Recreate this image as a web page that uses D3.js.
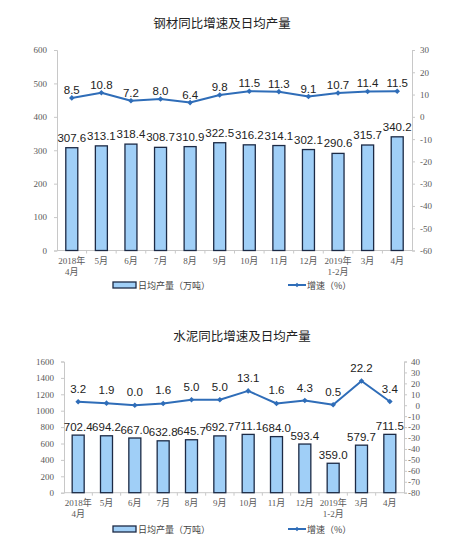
<!DOCTYPE html>
<html>
<head>
<meta charset="utf-8">
<script src="https://cdn.jsdelivr.net/npm/d3@7"></script>
<style>
    body { margin: 0; background: #fff; }
    svg { display: block; }
</style>
</head>
<body>
<div id="chart"></div>
<script>
// categories
const months = ['2018年\n4月', '5月', '6月', '7月', '8月', '9月', '10月', '11月', '12月', '2019年\n1-2月', '3月', '4月'];

// steel
const steelOutput = [307.6, 313.1, 318.4, 308.7, 310.9, 322.5, 316.2, 314.1, 302.1, 290.6, 315.7, 340.2];
const steelGrowth = [8.5, 10.8, 7.2, 8.0, 6.4, 9.8, 11.5, 11.3, 9.1, 10.7, 11.4, 11.5];
const steelLeftTicks = [0, 100, 200, 300, 400, 500, 600];
const steelRightTicks = [-60, -50, -40, -30, -20, -10, 0, 10, 20, 30];

// cement
const cementOutput = [702.4, 694.2, 667.0, 632.8, 645.7, 692.7, 711.1, 684.0, 593.4, 359.0, 579.7, 711.5];
const cementGrowth = [3.2, 1.9, 0.0, 1.6, 5.0, 5.0, 13.1, 1.6, 4.3, 0.5, 22.2, 3.4];
const cementLeftTicks = [0, 200, 400, 600, 800, 1000, 1200, 1400, 1600];
const cementRightTicks = [-80, -70, -60, -50, -40, -30, -20, -10, 0, 10, 20, 30, 40];

const barLegend = '日均产量（万吨）';
const lineLegend = '增速（%）';

const lineColor = '#2f6db8';
const barFill = '#a0cff7';
const barStroke = '#1c2a45';
const axisColor = '#c8c8c8';
const tickColor = '#595959';
const serif = '"Liberation Serif", "Noto Sans CJK SC", serif';
const sans = '"Liberation Sans", Arial, sans-serif';
const cjk = '"Noto Sans CJK SC", sans-serif';

const svg = d3.select('#chart')
    .append('svg')
    .attr('width', 454)
    .attr('height', 558);

svg.append('rect').attr('width', 454).attr('height', 558).attr('fill', '#fff');

function diamond(g, x, y, r) {
    g.append('path')
        .attr('d', `M${x},${y - r}L${x + r},${y}L${x},${y + r}L${x - r},${y}Z`)
        .attr('fill', lineColor);
}

function drawChart(o) {
    const grp = svg.append('g');

    // title
    grp.append('text')
        .attr('x', o.titleX)
        .attr('y', o.titleY)
        .attr('text-anchor', 'middle')
        .style('font-family', cjk)
        .style('font-size', '12.5px')
        .attr('fill', '#222')
        .text(o.title);

    const xScale = d3.scaleBand()
        .domain(months)
        .range([o.left, o.right]);

    const yScale = d3.scaleLinear()
        .domain(d3.extent(o.leftTicks))
        .range([o.bottom, o.top]);

    const y2Scale = d3.scaleLinear()
        .domain(d3.extent(o.rightTicks))
        .range([o.bottom, o.top]);

    // left axis
    const yAxis = grp.append('g')
        .attr('transform', `translate(${o.left},0)`)
        .call(d3.axisLeft(yScale).tickValues(o.leftTicks).tickSize(3).tickPadding(7).tickFormat(d => String(d)));
    yAxis.select('.domain').attr('stroke', axisColor);
    yAxis.selectAll('.tick line').attr('stroke', axisColor);
    yAxis.selectAll('text')
        .style('font-family', serif)
        .style('font-size', '9px')
        .attr('fill', tickColor);

    // right axis
    const y2Axis = grp.append('g')
        .attr('transform', `translate(${o.right},0)`)
        .call(d3.axisRight(y2Scale).tickValues(o.rightTicks).tickSize(3).tickPadding(o.rightPad).tickFormat(d => String(d)));
    y2Axis.select('.domain').attr('stroke', axisColor);
    y2Axis.selectAll('.tick line').attr('stroke', axisColor);
    y2Axis.selectAll('text')
        .style('font-family', serif)
        .style('font-size', '9px')
        .attr('text-anchor', o.rightAnchor)
        .attr('fill', tickColor);

    // x axis
    grp.append('line')
        .attr('x1', o.left).attr('x2', o.right)
        .attr('y1', o.bottom).attr('y2', o.bottom)
        .attr('stroke', axisColor);

    grp.selectAll('.xtick')
        .data(months.slice(1))
        .enter()
        .append('line')
        .attr('x1', d => xScale(d))
        .attr('x2', d => xScale(d))
        .attr('y1', o.bottom)
        .attr('y2', o.bottom + 3)
        .attr('stroke', axisColor);

    const xLabels = grp.selectAll('.xlabel')
        .data(months)
        .enter()
        .append('text')
        .attr('x', d => xScale(d) + xScale.bandwidth() / 2)
        .attr('y', o.bottom + 13)
        .attr('text-anchor', 'middle')
        .style('font-family', serif)
        .style('font-size', '9px')
        .attr('fill', tickColor);
    xLabels.each(function (d) {
        const parts = d.split('\n');
        const t = d3.select(this);
        parts.forEach((p, i) => {
            t.append('tspan')
                .attr('x', xScale(d) + xScale.bandwidth() / 2)
                .attr('dy', i === 0 ? 0 : 11)
                .text(p);
        });
    });

    // bars
    const barW = 12;
    grp.selectAll('.bar')
        .data(o.bars)
        .enter()
        .append('rect')
        .attr('x', (d, i) => xScale(months[i]) + xScale.bandwidth() / 2 - barW / 2)
        .attr('y', d => yScale(d))
        .attr('width', barW)
        .attr('height', d => o.bottom - yScale(d))
        .attr('fill', barFill)
        .attr('stroke', barStroke)
        .attr('stroke-width', 1.3);

    grp.selectAll('.barLabel')
        .data(o.bars)
        .enter()
        .append('text')
        .attr('x', (d, i) => xScale(months[i]) + xScale.bandwidth() / 2)
        .attr('y', d => yScale(d) - o.barLabelGap)
        .attr('text-anchor', 'middle')
        .style('font-family', sans)
        .style('font-size', '11.5px')
        .attr('fill', '#222')
        .text(d => d.toFixed(1));

    // growth line
    const line = d3.line()
        .x((d, i) => xScale(months[i]) + xScale.bandwidth() / 2)
        .y(d => y2Scale(d));

    grp.append('path')
        .datum(o.line)
        .attr('d', line)
        .attr('fill', 'none')
        .attr('stroke', lineColor)
        .attr('stroke-width', 2)
        .attr('stroke-linejoin', 'round');

    o.line.forEach((d, i) => {
        diamond(grp, xScale(months[i]) + xScale.bandwidth() / 2, y2Scale(d), 2.8);
    });

    grp.selectAll('.lineLabel')
        .data(o.line)
        .enter()
        .append('text')
        .attr('x', (d, i) => xScale(months[i]) + xScale.bandwidth() / 2)
        .attr('y', d => y2Scale(d) - o.lineLabelGap)
        .attr('text-anchor', 'middle')
        .style('font-family', sans)
        .style('font-size', '11.5px')
        .attr('fill', '#222')
        .text(d => d.toFixed(1));

    // legend
    grp.append('rect')
        .attr('x', 113).attr('y', o.legendY - 3)
        .attr('width', 23).attr('height', 6)
        .attr('fill', barFill)
        .attr('stroke', barStroke)
        .attr('stroke-width', 1.3);
    grp.append('text')
        .attr('x', 138).attr('y', o.legendY + 3.5)
        .style('font-family', cjk)
        .style('font-size', '9px')
        .attr('fill', '#444')
        .text(barLegend);

    grp.append('line')
        .attr('x1', 288).attr('x2', 306)
        .attr('y1', o.legendY).attr('y2', o.legendY)
        .attr('stroke', lineColor)
        .attr('stroke-width', 2);
    diamond(grp, 297, o.legendY, 2.2);
    grp.append('text')
        .attr('x', 307).attr('y', o.legendY + 3.5)
        .style('font-family', cjk)
        .style('font-size', '9px')
        .attr('fill', '#444')
        .text(lineLegend);
}

drawChart({
    title: '钢材同比增速及日均产量',
    titleX: 222, titleY: 28,
    left: 57, right: 412, top: 50, bottom: 250.5,
    leftTicks: steelLeftTicks, rightTicks: steelRightTicks,
    rightPad: 5, rightAnchor: 'start',
    bars: steelOutput, line: steelGrowth,
    barLabelGap: 6, lineLabelGap: 4,
    legendY: 285
});

drawChart({
    title: '水泥同比增速及日均产量',
    titleX: 242, titleY: 341,
    left: 64, right: 404, top: 361.5, bottom: 492.7,
    leftTicks: cementLeftTicks, rightTicks: cementRightTicks,
    rightPad: 13, rightAnchor: 'end',
    bars: cementOutput, line: cementGrowth,
    barLabelGap: 4.5, lineLabelGap: 9,
    legendY: 529
});
</script>
</body>
</html>
